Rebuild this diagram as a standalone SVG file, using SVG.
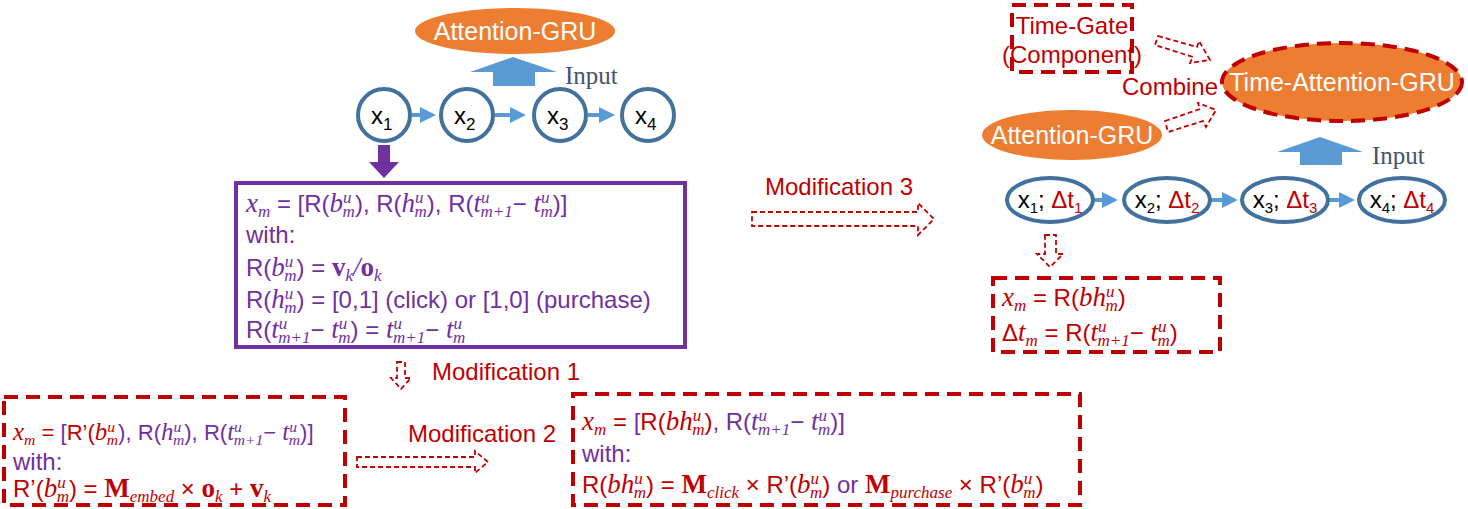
<svg xmlns="http://www.w3.org/2000/svg" width="1468" height="509" viewBox="0 0 1468 509">
<style>
text{font-family:"Liberation Sans",Arial,sans-serif;font-size:24px}
.p{fill:#7030A0}.r{fill:#C00000}
.i{font-family:"Liberation Serif",serif;font-style:italic;font-size:27px}
.b{font-family:"Liberation Serif",serif;font-weight:bold;font-size:27px}
.s{font-family:"Liberation Serif",serif;font-style:italic;font-size:17px}
.w{fill:#fff;font-size:25px}
.in{font-family:"Liberation Serif",serif;font-size:25px;fill:#44546A}
.node{fill:#fff;stroke:#41719C;stroke-width:4}
.dbox{fill:none;stroke:#C00000;stroke-width:4;stroke-dasharray:14 8}
.ha{fill:#fff;stroke:#C00000;stroke-width:1.8;stroke-dasharray:5 3}
.ar{stroke:#5B9BD5;stroke-width:4;fill:none;marker-end:url(#ah)}
</style>
<defs>
<marker id="ah" markerWidth="4" markerHeight="4" refX="3" refY="2" orient="auto"><path d="M0,0L4,2L0,4Z" fill="#5B9BD5"/></marker>
</defs>
<g id="attgru1"><ellipse cx="515" cy="31" rx="100" ry="23" fill="#ED7D31"/><text class="w" x="515" y="40" text-anchor="middle">Attention-GRU</text></g>
<g id="input1"><path d="M493,86V72H470L513,57L557,72H535V86Z" fill="#5B9BD5"/><text class="in" x="565" y="84">Input</text></g>
<g id="x1"><circle class="node" cx="384" cy="115" r="26"/><text x="371" y="124" font-size="27">x<tspan font-size="17" dy="6">1</tspan></text></g>
<g id="x2"><circle class="node" cx="467" cy="115" r="26"/><text x="454" y="124" font-size="27">x<tspan font-size="17" dy="6">2</tspan></text></g>
<g id="x3"><circle class="node" cx="560" cy="115" r="26"/><text x="547" y="124" font-size="27">x<tspan font-size="17" dy="6">3</tspan></text></g>
<g id="x4"><circle class="node" cx="648" cy="115" r="26"/><text x="635" y="124" font-size="27">x<tspan font-size="17" dy="6">4</tspan></text></g>
<g id="connectors">
<line class="ar" x1="412" y1="115" x2="432" y2="115"/>
<line class="ar" x1="495" y1="115" x2="522" y2="115"/>
<line class="ar" x1="588" y1="115" x2="611" y2="115"/>
<path d="M378,145H390V162H399L384,178L369,162H378Z" fill="#7030A0"/>
<path class="ha" d="M397,362H405V378H411L401,389L391,378H397Z"/>
<path class="ha" d="M357,457H475V451L488,462L475,473V467H357Z"/>
<path class="ha" d="M752,212H918V203L934,219L918,235V226H752Z"/>
<path class="ha" d="M1045,235H1056V254H1063L1050,267L1037,254H1045Z"/>
<path class="ha" d="M1158,36L1197,47L1199,41L1210,60L1190,63L1193,57L1155,45Z"/>
<path class="ha" d="M1165,121L1200,109L1198,103L1216,110L1206,127L1203,121L1168,132Z"/>
<line class="ar" x1="1093" y1="200" x2="1114" y2="200"/>
<line class="ar" x1="1210" y1="200" x2="1234" y2="200"/>
<line class="ar" x1="1327" y1="200" x2="1351" y2="200"/>
</g>
<g id="box1">
<rect x="236" y="183" width="449" height="164" fill="none" stroke="#7030A0" stroke-width="4"/>
<text class="p" x="246" y="212"><tspan class="i">x</tspan><tspan class="s" dy="5">m</tspan><tspan dy="-5"> = [R(</tspan><tspan class="i">b</tspan><tspan class="s" dy="-9">u</tspan><tspan class="s" dx="-9" dy="14">m</tspan><tspan dy="-5">), R(</tspan><tspan class="i">h</tspan><tspan class="s" dy="-9">u</tspan><tspan class="s" dx="-9" dy="14">m</tspan><tspan dy="-5">), R(</tspan><tspan class="i">t</tspan><tspan class="s" dy="-9">u</tspan><tspan class="s" dx="-9" dy="14">m+1</tspan><tspan dy="-5">− </tspan><tspan class="i">t</tspan><tspan class="s" dy="-9">u</tspan><tspan class="s" dx="-9" dy="14">m</tspan><tspan dy="-5">)]</tspan></text>
<text class="p" x="246" y="243">with:</text>
<text class="p" x="246" y="276">R(<tspan class="i">b</tspan><tspan class="s" dy="-9">u</tspan><tspan class="s" dx="-9" dy="14">m</tspan><tspan dy="-5">) = </tspan><tspan class="b">v</tspan><tspan class="s" dy="5">k</tspan><tspan class="i" dy="-5">/</tspan><tspan class="b">o</tspan><tspan class="s" dy="5">k</tspan></text>
<text class="p" x="246" y="308">R(<tspan class="i">h</tspan><tspan class="s" dy="-9">u</tspan><tspan class="s" dx="-9" dy="14">m</tspan><tspan dy="-5">) = [0,1] (click) or [1,0] (purchase)</tspan></text>
<text class="p" x="246" y="338">R(<tspan class="i">t</tspan><tspan class="s" dy="-9">u</tspan><tspan class="s" dx="-9" dy="14">m+1</tspan><tspan dy="-5">− </tspan><tspan class="i">t</tspan><tspan class="s" dy="-9">u</tspan><tspan class="s" dx="-9" dy="14">m</tspan><tspan dy="-5">) = </tspan><tspan class="i">t</tspan><tspan class="s" dy="-9">u</tspan><tspan class="s" dx="-9" dy="14">m+1</tspan><tspan dy="-5">− </tspan><tspan class="i">t</tspan><tspan class="s" dy="-9">u</tspan><tspan class="s" dx="-9" dy="14">m</tspan></text>
</g>
<text class="r" x="432" y="380" font-size="25">Modification 1</text>
<text class="r" x="408" y="442" font-size="25">Modification 2</text>
<text class="r" x="765" y="195" font-size="25">Modification 3</text>
<g id="box2">
<rect class="dbox" x="4" y="397" width="341" height="108"/>
<text class="p" transform="translate(13,440) scale(0.92)" x="0" y="0"><tspan class="i r">x</tspan><tspan class="s r" dy="5">m</tspan><tspan class="r" dy="-5"> = </tspan>[<tspan class="r">R’(</tspan><tspan class="i r">b</tspan><tspan class="s r" dy="-9">u</tspan><tspan class="s r" dx="-9" dy="14">m</tspan><tspan dy="-5">), R(</tspan><tspan class="i">h</tspan><tspan class="s" dy="-9">u</tspan><tspan class="s" dx="-9" dy="14">m</tspan><tspan dy="-5">), R(</tspan><tspan class="i">t</tspan><tspan class="s" dy="-9">u</tspan><tspan class="s" dx="-9" dy="14">m+1</tspan><tspan dy="-5">− </tspan><tspan class="i">t</tspan><tspan class="s" dy="-9">u</tspan><tspan class="s" dx="-9" dy="14">m</tspan><tspan dy="-5">)]</tspan></text>
<text class="p" x="13" y="470">with:</text>
<text class="r" x="13" y="497">R’(<tspan class="i">b</tspan><tspan class="s" dy="-9">u</tspan><tspan class="s" dx="-9" dy="14">m</tspan><tspan dy="-5">) = </tspan><tspan class="b">M</tspan><tspan class="s" dy="5">embed</tspan><tspan dy="-5"> × </tspan><tspan class="b">o</tspan><tspan class="s" dy="5">k</tspan><tspan dy="-5"> + </tspan><tspan class="b">v</tspan><tspan class="s" dy="5">k</tspan></text>
</g>
<g id="box3">
<rect class="dbox" x="573" y="394" width="507" height="111"/>
<text class="p" x="582" y="430"><tspan class="i r">x</tspan><tspan class="s r" dy="5">m</tspan><tspan class="r" dy="-5"> = </tspan>[<tspan class="r">R(</tspan><tspan class="i r">bh</tspan><tspan class="s r" dy="-9">u</tspan><tspan class="s r" dx="-9" dy="14">m</tspan><tspan class="r" dy="-5">)</tspan>, R(<tspan class="i">t</tspan><tspan class="s" dy="-9">u</tspan><tspan class="s" dx="-9" dy="14">m+1</tspan><tspan dy="-5">− </tspan><tspan class="i">t</tspan><tspan class="s" dy="-9">u</tspan><tspan class="s" dx="-9" dy="14">m</tspan><tspan dy="-5">)]</tspan></text>
<text class="p" x="582" y="462">with:</text>
<text class="r" x="582" y="493">R(<tspan class="i">bh</tspan><tspan class="s" dy="-9">u</tspan><tspan class="s" dx="-9" dy="14">m</tspan><tspan dy="-5">) = </tspan><tspan class="b">M</tspan><tspan class="s" dy="5">click</tspan><tspan dy="-5"> × R’(</tspan><tspan class="i">b</tspan><tspan class="s" dy="-9">u</tspan><tspan class="s" dx="-9" dy="14">m</tspan><tspan dy="-5">) </tspan><tspan class="p">or </tspan><tspan class="b">M</tspan><tspan class="s" dy="5">purchase</tspan><tspan dy="-5"> × R’(</tspan><tspan class="i">b</tspan><tspan class="s" dy="-9">u</tspan><tspan class="s" dx="-9" dy="14">m</tspan><tspan dy="-5">)</tspan></text>
</g>
<g id="timegate"><rect class="dbox" x="1012" y="5" width="120" height="67"/><text class="r" x="1072" y="34" text-anchor="middle" font-size="22">Time-Gate</text><text class="r" x="1072" y="63" text-anchor="middle" font-size="12">(Component)</text></g>
<text class="r" x="1122" y="95" font-family="Liberation Serif" font-size="29">Combine</text>
<g id="tagru"><ellipse cx="1342" cy="82" rx="120" ry="39" fill="#ED7D31" stroke="#C00000" stroke-width="4" stroke-dasharray="14 8"/><text class="w" x="1342" y="91" text-anchor="middle" font-size="24">Time-Attention-GRU</text></g>
<g id="attgru2"><ellipse cx="1072" cy="135" rx="90" ry="25" fill="#ED7D31"/><text class="w" x="1072" y="144" text-anchor="middle">Attention-GRU</text></g>
<g id="input2"><path d="M1300,165V152H1277L1320,137L1363,152H1342V165Z" fill="#5B9BD5"/><text class="in" x="1372" y="164">Input</text></g>
<g id="tx1"><ellipse class="node" cx="1050" cy="200" rx="43" ry="22"/><text x="1050" y="208" text-anchor="middle" font-size="23">x<tspan font-size="15" dy="5">1</tspan><tspan dy="-5">; </tspan><tspan class="r">Δt<tspan font-size="15" dy="5">1</tspan></tspan></text></g>
<g id="tx2"><ellipse class="node" cx="1167" cy="200" rx="43" ry="22"/><text x="1167" y="208" text-anchor="middle" font-size="23">x<tspan font-size="15" dy="5">2</tspan><tspan dy="-5">; </tspan><tspan class="r">Δt<tspan font-size="15" dy="5">2</tspan></tspan></text></g>
<g id="tx3"><ellipse class="node" cx="1285" cy="200" rx="43" ry="22"/><text x="1285" y="208" text-anchor="middle" font-size="23">x<tspan font-size="15" dy="5">3</tspan><tspan dy="-5">; </tspan><tspan class="r">Δt<tspan font-size="15" dy="5">3</tspan></tspan></text></g>
<g id="tx4"><ellipse class="node" cx="1402" cy="200" rx="43" ry="22"/><text x="1402" y="208" text-anchor="middle" font-size="23">x<tspan font-size="15" dy="5">4</tspan><tspan dy="-5">; </tspan><tspan class="r">Δt<tspan font-size="15" dy="5">4</tspan></tspan></text></g>
<g id="box4">
<rect class="dbox" x="993" y="278" width="227" height="74"/>
<text class="r" x="1002" y="306"><tspan class="i">x</tspan><tspan class="s" dy="5">m</tspan><tspan dy="-5"> = R(</tspan><tspan class="i">bh</tspan><tspan class="s" dy="-9">u</tspan><tspan class="s" dx="-9" dy="14">m</tspan><tspan dy="-5">)</tspan></text>
<text class="r" x="1002" y="341">Δ<tspan class="i">t</tspan><tspan class="s" dy="5">m</tspan><tspan dy="-5"> = R(</tspan><tspan class="i">t</tspan><tspan class="s" dy="-9">u</tspan><tspan class="s" dx="-9" dy="14">m+1</tspan><tspan dy="-5">− </tspan><tspan class="i">t</tspan><tspan class="s" dy="-9">u</tspan><tspan class="s" dx="-9" dy="14">m</tspan><tspan dy="-5">)</tspan></text>
</g>
</svg>
